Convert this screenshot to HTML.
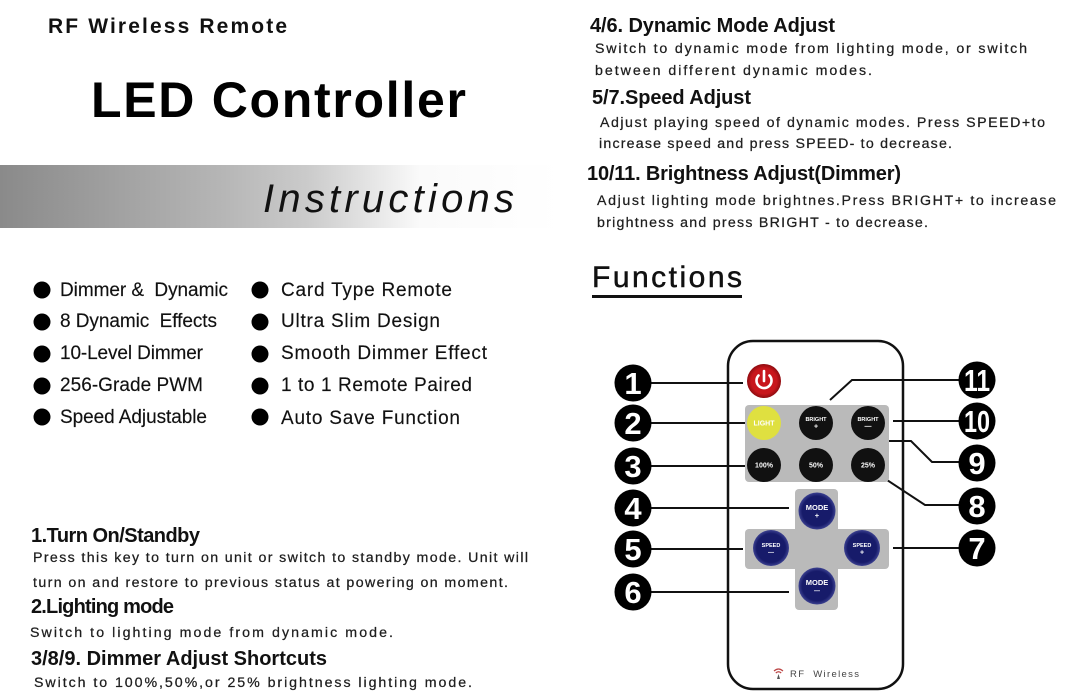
<!DOCTYPE html>
<html><head><meta charset="utf-8"><style>
html,body{margin:0;padding:0;background:#fff;}
svg{display:block;}
text{font-family:"Liberation Sans",Arial,sans-serif;}
.h{font-weight:bold;fill:#111;font-size:20px;}
.b{fill:#1e1e1e;font-size:14.2px;stroke:#1e1e1e;stroke-width:0.25;}
.f{fill:#111;font-size:19px;stroke:#111;stroke-width:0.15;}
.n{font-weight:bold;fill:#fff;font-size:31px;}
.t{font-weight:bold;fill:#fff;}
</style></head><body>
<svg width="1090" height="700" viewBox="0 0 1090 700" xmlns="http://www.w3.org/2000/svg">
<defs>
<linearGradient id="band" x1="0" y1="0" x2="1" y2="0">
<stop offset="0" stop-color="#8a8a8a"/>
<stop offset="0.2" stop-color="#a0a0a0"/>
<stop offset="0.4" stop-color="#b6b6b6"/>
<stop offset="0.55" stop-color="#cbcbcb"/>
<stop offset="0.65" stop-color="#e2e2e2"/>
<stop offset="0.75" stop-color="#fafafa"/>
<stop offset="1" stop-color="#ffffff"/>
</linearGradient>
<radialGradient id="red" cx="0.5" cy="0.5" r="0.5">
<stop offset="0.75" stop-color="#c8161c"/><stop offset="1" stop-color="#8e0c10"/>
</radialGradient>
<radialGradient id="navy" cx="0.5" cy="0.5" r="0.5">
<stop offset="0.8" stop-color="#171b6a"/><stop offset="1" stop-color="#3c4190"/>
</radialGradient>
</defs>
<rect width="1090" height="700" fill="#fff"/>

<!-- Header -->
<text x="48" y="33" font-size="21" font-weight="bold" fill="#111" textLength="239">RF Wireless Remote</text>
<text x="91" y="117" font-size="50" font-weight="bold" fill="#000" textLength="375">LED Controller</text>
<rect x="0" y="165" width="560" height="63" fill="url(#band)"/>
<text x="263" y="212" font-size="40" font-style="italic" fill="#111" textLength="251">Instructions</text>

<!-- Feature bullets -->
<g fill="#000">
<circle cx="42" cy="290" r="8.5"/><circle cx="42" cy="322" r="8.5"/><circle cx="42" cy="354" r="8.5"/><circle cx="42" cy="386" r="8.5"/><circle cx="42" cy="417" r="8.5"/>
<circle cx="260" cy="290" r="8.5"/><circle cx="260" cy="322" r="8.5"/><circle cx="260" cy="354" r="8.5"/><circle cx="260" cy="386" r="8.5"/><circle cx="260" cy="417" r="8.5"/>
</g>
<text class="f" x="60" y="296" textLength="168" xml:space="preserve">Dimmer &amp;  Dynamic</text>
<text class="f" x="60" y="327" textLength="157" xml:space="preserve">8 Dynamic  Effects</text>
<text class="f" x="60" y="359" textLength="143">10-Level Dimmer</text>
<text class="f" x="60" y="391" textLength="143">256-Grade PWM</text>
<text class="f" x="60" y="423" textLength="147">Speed Adjustable</text>
<text class="f" x="281" y="296" textLength="171">Card Type Remote</text>
<text class="f" x="281" y="327" textLength="159">Ultra Slim Design</text>
<text class="f" x="281" y="359" textLength="206">Smooth Dimmer Effect</text>
<text class="f" x="281" y="391" textLength="191">1 to 1 Remote Paired</text>
<text class="f" x="281" y="424" textLength="179">Auto Save Function</text>

<!-- Bottom-left instructions -->
<text class="h" x="31" y="542" textLength="169">1.Turn On/Standby</text>
<text class="b" x="33" y="562" textLength="495">Press this key to turn on unit or switch to standby mode. Unit will</text>
<text class="b" x="33" y="587" textLength="475">turn on and restore to previous status at powering on moment.</text>
<text class="h" x="31" y="613" textLength="143">2.Lighting mode</text>
<text class="b" x="30" y="637" textLength="363">Switch to lighting mode from dynamic mode.</text>
<text class="h" x="31" y="665" textLength="296">3/8/9. Dimmer Adjust Shortcuts</text>
<text class="b" x="34" y="687" textLength="438">Switch to 100%,50%,or 25% brightness lighting mode.</text>

<!-- Right column text -->
<text class="h" x="590" y="32" textLength="245">4/6. Dynamic Mode Adjust</text>
<text class="b" x="595" y="53" textLength="432">Switch to dynamic mode from lighting mode, or switch</text>
<text class="b" x="595" y="75" textLength="277">between different dynamic modes.</text>
<text class="h" x="592" y="104" textLength="159">5/7.Speed Adjust</text>
<text class="b" x="600" y="127" textLength="445">Adjust playing speed of dynamic modes. Press SPEED+to</text>
<text class="b" x="599" y="148" textLength="353">increase speed and press SPEED- to decrease.</text>
<text class="h" x="587" y="180" textLength="314">10/11. Brightness Adjust(Dimmer)</text>
<text class="b" x="597" y="205" textLength="459">Adjust lighting mode brightnes.Press BRIGHT+ to increase</text>
<text class="b" x="597" y="227" textLength="331">brightness and press BRIGHT - to decrease.</text>
<text x="592" y="287" font-size="30" fill="#111" stroke="#111" stroke-width="0.5" textLength="150">Functions</text>
<rect x="592" y="295" width="150" height="3" fill="#111"/>

<!-- Remote body -->
<rect x="728" y="341" width="175" height="348" rx="25" ry="25" fill="#fff" stroke="#111" stroke-width="2.5"/>

<!-- Connector lines -->
<g stroke="#111" stroke-width="2" fill="none">
<line x1="645" y1="383" x2="743" y2="383"/>
<line x1="645" y1="423" x2="745" y2="423"/>
<line x1="645" y1="466" x2="745" y2="466"/>
<line x1="645" y1="508" x2="789" y2="508"/>
<line x1="645" y1="549" x2="743" y2="549"/>
<line x1="645" y1="592" x2="789" y2="592"/>
<polyline points="965,380 852,380 830,400"/>
<line x1="893" y1="421" x2="965" y2="421"/>
<polyline points="889,441 911,441 932,462 965,462"/>
<polyline points="887,480 925,505 965,505"/>
<line x1="893" y1="548" x2="965" y2="548"/>
</g>

<!-- Panels -->
<g fill="#bababa">
<rect x="745" y="405" width="144" height="77" rx="4"/>
<rect x="795" y="489" width="43" height="121" rx="4"/>
<rect x="745" y="529" width="144" height="40" rx="4"/>
</g>

<!-- Power button -->
<circle cx="764" cy="381" r="17" fill="url(#red)"/>
<path d="M758.5,375.5 A7.5,7.5 0 1 0 769.5,375.5" fill="none" stroke="#fff" stroke-width="2.6" stroke-linecap="round"/>
<line x1="764" y1="371" x2="764" y2="381" stroke="#fff" stroke-width="2.6" stroke-linecap="round"/>

<!-- Top buttons -->
<circle cx="764" cy="423" r="17" fill="#dfe040"/>
<text class="t" x="764" y="425.5" font-size="7" text-anchor="middle" fill="#fff">LIGHT</text>
<circle cx="816" cy="423" r="17" fill="#111"/>
<text class="t" x="816" y="421" font-size="5.5" text-anchor="middle">BRIGHT</text>
<text class="t" x="816" y="428.5" font-size="7" text-anchor="middle">+</text>
<circle cx="868" cy="423" r="17" fill="#111"/>
<text class="t" x="868" y="421" font-size="5.5" text-anchor="middle">BRIGHT</text>
<text class="t" x="868" y="428.5" font-size="7" text-anchor="middle">—</text>
<circle cx="764" cy="465" r="17" fill="#111"/>
<text class="t" x="764" y="467.5" font-size="7" text-anchor="middle">100%</text>
<circle cx="816" cy="465" r="17" fill="#111"/>
<text class="t" x="816" y="467.5" font-size="7" text-anchor="middle">50%</text>
<circle cx="868" cy="465" r="17" fill="#111"/>
<text class="t" x="868" y="467.5" font-size="7" text-anchor="middle">25%</text>

<!-- D-pad buttons -->
<circle cx="817" cy="511" r="18.5" fill="url(#navy)"/>
<text class="t" x="817" y="510" font-size="7.5" text-anchor="middle">MODE</text>
<text class="t" x="817" y="518" font-size="7.5" text-anchor="middle">+</text>
<circle cx="771" cy="548" r="18" fill="url(#navy)"/>
<text class="t" x="771" y="547" font-size="5.5" text-anchor="middle">SPEED</text>
<text class="t" x="771" y="554" font-size="6" text-anchor="middle">—</text>
<circle cx="862" cy="548" r="18" fill="url(#navy)"/>
<text class="t" x="862" y="547" font-size="5.5" text-anchor="middle">SPEED</text>
<text class="t" x="862" y="554.5" font-size="7" text-anchor="middle">+</text>
<circle cx="817" cy="586" r="18.5" fill="url(#navy)"/>
<text class="t" x="817" y="585" font-size="7.5" text-anchor="middle">MODE</text>
<text class="t" x="817" y="592.5" font-size="6" text-anchor="middle">—</text>

<!-- RF Wireless label -->
<g fill="none" stroke="#b44" stroke-width="1.2">
<path d="M774,671 Q778.5,667 783,671"/>
<path d="M775.8,673 Q778.5,670.5 781.2,673"/>
</g>
<path d="M778.5,674 L777,679 L780,679 Z" fill="#555"/>
<text x="790" y="677" font-size="9.5" fill="#444" textLength="69" xml:space="preserve">RF  Wireless</text>

<!-- Number badges -->
<g fill="#000">
<circle cx="633" cy="383" r="18.5"/><circle cx="633" cy="423" r="18.5"/><circle cx="633" cy="466" r="18.5"/>
<circle cx="633" cy="508" r="18.5"/><circle cx="633" cy="549" r="18.5"/><circle cx="633" cy="592" r="18.5"/>
<circle cx="977" cy="380" r="18.5"/><circle cx="977" cy="421" r="18.5"/><circle cx="977" cy="463" r="18.5"/>
<circle cx="977" cy="506" r="18.5"/><circle cx="977" cy="548" r="18.5"/>
</g>
<g class="n" text-anchor="middle">
<text class="n" x="633" y="394">1</text>
<text class="n" x="633" y="434">2</text>
<text class="n" x="633" y="477">3</text>
<text class="n" x="633" y="519">4</text>
<text class="n" x="633" y="560">5</text>
<text class="n" x="633" y="603">6</text>
<text class="n" x="964" y="391" textLength="26" lengthAdjust="spacingAndGlyphs" text-anchor="start">11</text>
<text class="n" x="964" y="432" textLength="26" lengthAdjust="spacingAndGlyphs" text-anchor="start">10</text>
<text class="n" x="977" y="474">9</text>
<text class="n" x="977" y="517">8</text>
<text class="n" x="977" y="559">7</text>
</g>
</svg>
</body></html>
